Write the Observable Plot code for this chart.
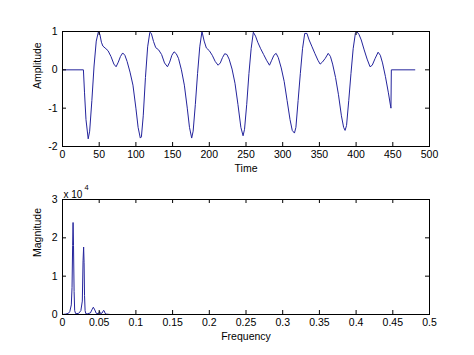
<!DOCTYPE html>
<html>
<head>
<meta charset="utf-8">
<script src="https://cdn.jsdelivr.net/npm/d3@7"></script>
<script src="https://cdn.jsdelivr.net/npm/@observablehq/plot@0.6"></script>
<style>
  html, body { margin: 0; padding: 0; background: #fff; }
  #chart { width: 474px; height: 355px; overflow: hidden; }
  #chart svg { display: block; }
</style>
</head>
<body>
<div id="chart"></div>
<script>
// ---- Top subplot: time-domain signal ----
const time = [
  0, 28.5, 30, 32, 35, 37, 40, 43, 46, 49, 51, 53, 55, 58, 62, 66, 70, 73, 76, 79, 82, 85, 88, 92, 96, 100, 103, 106, 107.5,
  110, 113, 116, 119, 121, 124, 127, 131, 135, 139, 143, 146, 149, 152, 155, 158, 162, 166, 170, 173, 176, 178,
  181, 184, 187, 190, 193, 196, 200, 204, 208, 212, 215, 218, 221, 224, 227, 231, 235, 239, 243, 246, 248,
  251, 254, 257, 260, 263, 266, 270, 274, 278, 282, 285, 288, 291, 294, 298, 302, 306, 310, 313, 316, 318,
  321, 324, 327, 330, 333, 336, 340, 344, 348, 351, 354, 358, 362, 365, 368, 372, 376, 380, 383, 385, 387,
  390, 393, 396, 399, 401, 404, 407, 411, 415, 419, 422, 426, 430, 433, 436, 440, 444, 447, 447.5, 448, 480
];
const amplitude = [
  0, 0, -0.6, -1.3, -1.8, -1.6, -0.8, 0.1, 0.75, 1.0, 0.92, 0.72, 0.62, 0.57, 0.5, 0.35, 0.15, 0.08, 0.2, 0.35, 0.44, 0.38, 0.22, -0.06, -0.4, -1.0, -1.5, -1.78, -1.75,
  -1.2, -0.2, 0.6, 0.98, 0.95, 0.74, 0.58, 0.52, 0.4, 0.18, 0.08, 0.2, 0.38, 0.47, 0.42, 0.3, 0.0, -0.4, -1.0, -1.5, -1.78, -1.6,
  -0.9, -0.1, 0.6, 1.0, 0.75, 0.57, 0.5, 0.38, 0.22, 0.12, 0.18, 0.32, 0.42, 0.4, 0.28, 0.02, -0.35, -0.9, -1.5, -1.72, -1.55,
  -0.9, -0.1, 0.55, 0.98, 0.88, 0.72, 0.55, 0.4, 0.25, 0.12, 0.25, 0.38, 0.43, 0.32, 0.05, -0.3, -0.8, -1.3, -1.58, -1.65, -1.5,
  -0.8, -0.1, 0.55, 0.95, 0.95, 0.78, 0.6, 0.42, 0.25, 0.15, 0.2, 0.3, 0.43, 0.35, 0.15, -0.2, -0.65, -1.2, -1.5, -1.58, -1.45,
  -0.8, -0.1, 0.55, 0.95, 1.0, 0.92, 0.78, 0.52, 0.28, 0.08, 0.12, 0.3, 0.46, 0.38, 0.18, -0.18, -0.6, -0.95, -1.0, 0, 0
];
const timeTicks = [0, 50, 100, 150, 200, 250, 300, 350, 400, 450, 500];
const ampTicks = [-2, -1, 0, 1];

// ---- Bottom subplot: magnitude spectrum ----
const frequency = [
  0, 0.004, 0.008, 0.010, 0.012, 0.013, 0.0138, 0.0144, 0.0150, 0.0158, 0.0166, 0.018,
  0.022, 0.025, 0.027, 0.028, 0.0288, 0.0294, 0.030, 0.0308, 0.0318, 0.034,
  0.038, 0.040, 0.042, 0.044, 0.046, 0.049, 0.0505, 0.052, 0.054, 0.056, 0.057, 0.058, 0.060, 0.065, 0.5
];
const magnitude = [
  0, 100, 300, 800, 2500, 7000, 18000, 24000, 18000, 6000, 1000, 200,
  300, 1000, 3500, 14000, 17600, 13500, 5000, 1000, 200, 200,
  400, 1200, 1900, 1200, 300, 200, 800, 200, 400, 1100, 900, 300, 100, 0, 0
];
const freqTicks = [0, 0.05, 0.1, 0.15, 0.2, 0.25, 0.3, 0.35, 0.4, 0.45, 0.5];
const magTicks = [0, 10000, 20000, 30000];

const lineColor = "#24249c";
const font = "'Liberation Sans', Arial, sans-serif";
const W = 474, ML = 62, MR = 45, PH = 115;
const PW = W - ML - MR;
const TL = 4; // tick length (inward)
const FS = 10.5;

function ticksInward(xt, yt) {
  return [
    Plot.ruleX(xt, {x: d => d, insetTop: PH - TL, stroke: "black"}),
    Plot.ruleX(xt, {x: d => d, insetBottom: PH - TL, stroke: "black"}),
    Plot.ruleY(yt, {y: d => d, insetRight: PW - TL, stroke: "black"}),
    Plot.ruleY(yt, {y: d => d, insetLeft: PW - TL, stroke: "black"})
  ];
}

const signalData = time.map((t, i) => ({t, a: amplitude[i]}));
const spectrumData = frequency.map((f, i) => ({f, m: magnitude[i]}));

const topChart = Plot.plot({
  width: W, height: 178,
  marginTop: 31, marginBottom: 32, marginLeft: ML, marginRight: MR,
  style: {fontFamily: font, fontSize: FS + "px", background: "white", color: "black", overflow: "visible"},
  x: {domain: [0, 500]},
  y: {domain: [-2, 1]},
  marks: [
    Plot.line(signalData, {x: "t", y: "a", stroke: lineColor, strokeWidth: 1}),
    ...ticksInward(timeTicks, ampTicks),
    Plot.frame({stroke: "black"}),
    Plot.axisX(timeTicks, {tickSize: 0, tickPadding: 4, label: null, tickFormat: d => String(d), fontSize: FS}),
    Plot.axisY(ampTicks, {tickSize: 0, tickPadding: 5, label: null, tickFormat: d => String(d), fontSize: FS}),
    Plot.text(["Time"], {frameAnchor: "bottom", dy: 25, fontSize: FS}),
    Plot.text(["Amplitude"], {frameAnchor: "left", dx: -25, rotate: -90, fontSize: FS})
  ]
});

const bottomChart = Plot.plot({
  width: W, height: 177,
  marginTop: 21, marginBottom: 41, marginLeft: ML, marginRight: MR,
  style: {fontFamily: font, fontSize: FS + "px", background: "white", color: "black", overflow: "visible"},
  x: {domain: [0, 0.5]},
  y: {domain: [0, 30000]},
  marks: [
    Plot.line(spectrumData, {x: "f", y: "m", stroke: lineColor, strokeWidth: 1}),
    ...ticksInward(freqTicks, magTicks),
    Plot.frame({stroke: "black"}),
    Plot.axisX(freqTicks, {tickSize: 0, tickPadding: 4, label: null, tickFormat: d => String(d), fontSize: FS}),
    Plot.axisY(magTicks, {tickSize: 0, tickPadding: 5, label: null, tickFormat: d => String(d / 1e4), fontSize: FS}),
    Plot.text(["Frequency"], {frameAnchor: "bottom", dy: 25, fontSize: FS}),
    Plot.text(["Magnitude"], {frameAnchor: "left", dx: -25, rotate: -90, fontSize: FS}),
    Plot.text(["x 10"], {frameAnchor: "top-left", textAnchor: "start", dx: 1, dy: -9, fontSize: 10}),
    Plot.text(["4"], {frameAnchor: "top-left", textAnchor: "start", dx: 22, dy: -15, fontSize: 7.5})
  ]
});

const chart = document.getElementById("chart");
chart.appendChild(topChart);
chart.appendChild(bottomChart);
</script>
</body>
</html>
